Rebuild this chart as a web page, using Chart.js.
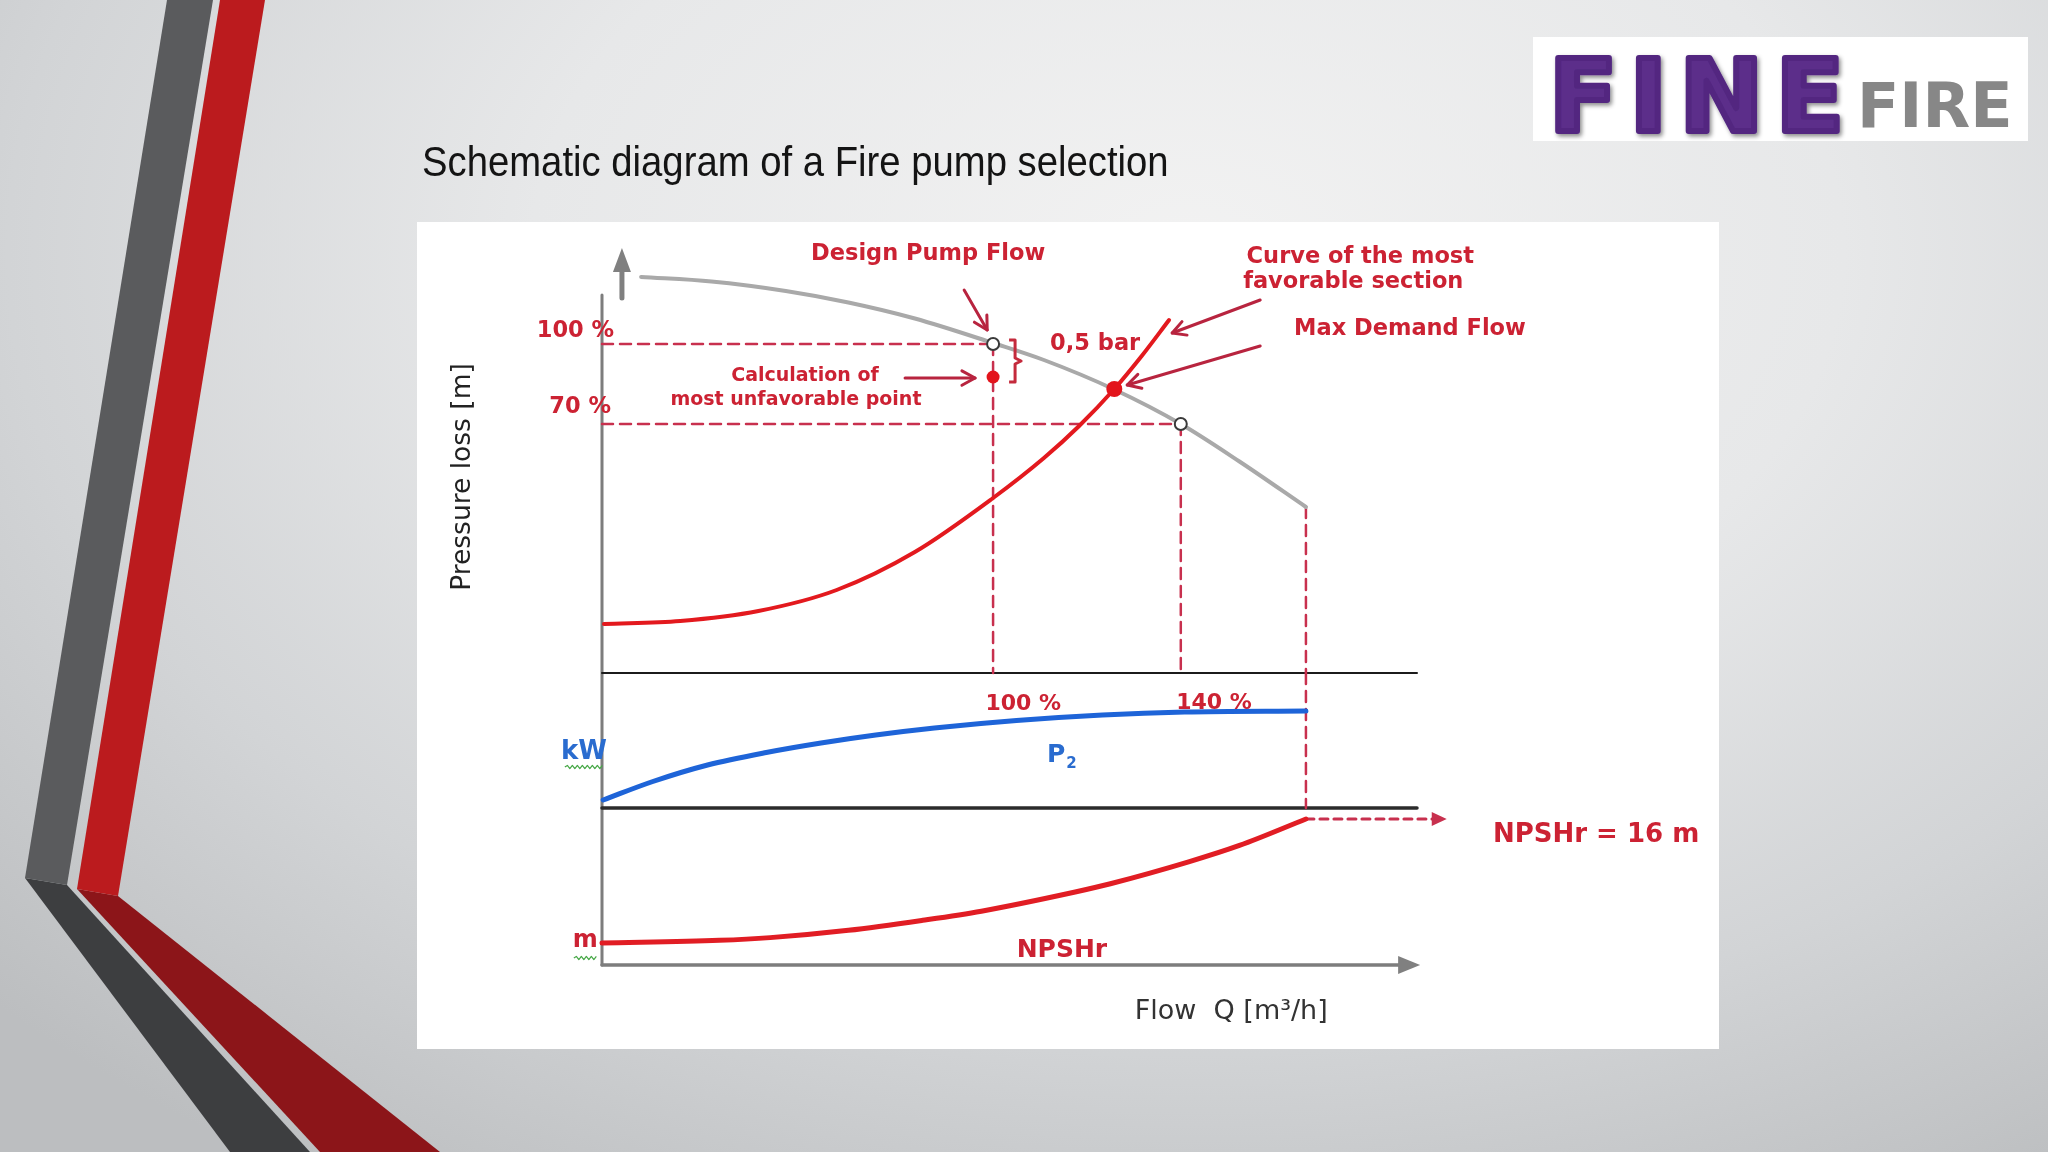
<!DOCTYPE html>
<html>
<head>
<meta charset="utf-8">
<title>Schematic diagram of a Fire pump selection</title>
<script src="https://cdn.jsdelivr.net/npm/chart.js@4.4.1/dist/chart.umd.min.js"></script>
<style>
html, body { margin:0; padding:0; width:2048px; height:1152px; overflow:hidden; }
body { position:relative; background: radial-gradient(ellipse 80% 95% at 58% 22%, #f2f2f2 0%, #e7e8e9 40%, #d2d4d6 72%, #bcbec0 100%); }
#stripes { position:absolute; left:0; top:0; }
#title { position:absolute; left:422px; top:140px; font-family:"Liberation Sans", Arial, sans-serif; font-size:43px; line-height:43px; color:#141414; white-space:nowrap; transform:scaleX(0.89); transform-origin:0 0; }
#logo { position:absolute; left:1533px; top:37px; }
#box { position:absolute; left:417px; top:222px; width:1302px; height:827px; background:#fff; }
#chart { position:absolute; left:0; top:0; }
</style>
</head>
<body>
<svg id="stripes" width="2048" height="1152">
  <polygon points="25,878 67,885 310,1152 230,1152" fill="#3d3e40"/>
  <polygon points="77,889 118,896 440,1152 320,1152" fill="#8c1519"/>
  <polygon points="167,0 213,0 67,885 25,878" fill="#5a5b5d"/>
  <polygon points="220,0 265,0 118,896 77,889" fill="#bb1b1e"/>
</svg>
<div id="title">Schematic diagram of a Fire pump selection</div>
<svg id="logo" width="495" height="104">
  <defs><filter id="sh" x="-5%" y="-10%" width="115%" height="130%"><feDropShadow dx="2" dy="2.5" stdDeviation="2" flood-color="#000" flood-opacity="0.45"/></filter></defs>
  <rect x="0" y="0" width="495" height="104" fill="#ffffff"/>
  <text x="16" y="94" font-family="DejaVu Sans, sans-serif" font-weight="bold" font-size="100" letter-spacing="12.5"
        fill="#5b2e8a" stroke="#522880" stroke-width="6" stroke-linejoin="round" filter="url(#sh)">FINE</text>
  <text x="324" y="90" font-family="DejaVu Sans, sans-serif" font-weight="bold" font-size="62" fill="#878787">FIRE</text>
</svg>
<div id="box"></div>
<canvas id="chart" width="2048" height="1152" style="width:2048px;height:1152px"></canvas>
<script>
// ---------------- data ----------------
// Flow axis: % of design flow (design = 100)
const pumpQ   = [10, 28, 47, 63, 80, 100, 113, 131, 148, 163, 180];
const pumpH   = [79.2, 78.3, 76.4, 74.1, 70.9, 66.0, 62.6, 56.7, 49.8, 42.3, 33.2];
const systemQ = [0.5, 20, 40, 60, 80, 100, 113, 122, 131, 138, 145];
const systemH = [9.8, 10.4, 12.4, 16.6, 24.2, 35.0, 43.0, 49.4, 56.8, 63.4, 70.6];
const powerQ  = [0.3, 13, 27, 42, 56, 70, 85, 106, 128, 149, 180];
const powerP  = [1.6, 5.3, 8.6, 11.1, 13.0, 14.6, 16.0, 17.5, 18.6, 19.2, 19.4];
const npshQ   = [0, 30, 43, 63, 82, 97, 121, 130, 150, 163, 180];
const npshH   = [2.4, 2.7, 3.0, 3.8, 4.9, 5.9, 8.0, 8.9, 11.3, 13.1, 16.0];
const designPoint = [100, 65.8];   // Design Pump Flow (100 %)
const testPoint   = [148, 49.8];   // 140 % flow / 70 % head
const calcPoint   = [100, 59.2];   // most unfavorable point
const maxPoint    = [131, 56.8];   // Max Demand Flow
const endQ = 180;                  // end of pump curve
const npshArrowQ = 216;
const headTicks = ['100 %', '70 %'];
const flowTicks = ['100 %', '140 %'];

// ---------------- helpers ----------------
const pts = (xs, ys) => xs.map((x, i) => ({x, y: ys[i]}));
const seg = (x1, y1, x2, y2) => [{x:x1, y:y1}, {x:x2, y:y2}];
const DASH = '#c8304e';
const RED_TXT = '#cc2233';
const ARROW = '#b8243f';
const BLUE_TXT = '#2a6ccf';

function dashed(data, axis, extra) {
  return Object.assign({data, yAxisID: axis, borderColor: DASH, borderWidth: 2.5,
    borderDash: [11, 7], pointRadius: 0, order: 5, clip: false, tension: 0}, extra || {});
}
function solid(data, axis, color, w, order) {
  return {data, yAxisID: axis, borderColor: color, borderWidth: w, pointRadius: 0,
    order: order, clip: false, tension: 0};
}
function curve(xs, ys, axis, color, w, order) {
  return {data: pts(xs, ys), yAxisID: axis, borderColor: color, borderWidth: w,
    cubicInterpolationMode: 'monotone', pointRadius: 0, order: order, clip: false};
}

const datasets = [
  {data: pts([maxPoint[0]], [maxPoint[1]]), yAxisID: 'yTop', showLine: false,
   pointRadius: 8, pointBackgroundColor: '#e3141c', pointBorderWidth: 0, order: 0, clip: false},
  {data: pts([calcPoint[0]], [calcPoint[1]]), yAxisID: 'yTop', showLine: false,
   pointRadius: 6.5, pointBackgroundColor: '#e3141c', pointBorderWidth: 0, order: 0, clip: false},
  {data: pts([designPoint[0], testPoint[0]], [designPoint[1], testPoint[1]]), yAxisID: 'yTop', showLine: false,
   pointRadius: 6, pointBackgroundColor: '#ffffff', pointBorderColor: '#3a3a3a', pointBorderWidth: 2, order: 0, clip: false},
  curve(systemQ, systemH, 'yTop', '#e3191e', 4, 1),
  curve(pumpQ, pumpH, 'yTop', '#a9a9a9', 4, 2),
  curve(powerQ, powerP, 'yMid', '#1e64d8', 5, 1),
  curve(npshQ, npshH, 'yBot', '#e11d24', 5, 1),
  // dashed guides
  dashed(seg(0, designPoint[1], designPoint[0], designPoint[1]), 'yTop'),
  dashed(seg(0, testPoint[1], testPoint[0], testPoint[1]), 'yTop'),
  dashed(seg(designPoint[0], designPoint[1], designPoint[0], 0), 'yTop'),
  dashed(seg(testPoint[0], testPoint[1], testPoint[0], 0), 'yTop'),
  dashed(seg(endQ, pumpH[pumpH.length - 1], endQ, 0), 'yTop'),
  dashed(seg(endQ, 27, endQ, 0), 'yMid'),
  dashed(seg(endQ, npshH[npshH.length - 1], npshArrowQ - 2, npshH[npshH.length - 1]), 'yBot', {borderDash: [8, 6], borderWidth: 3}),
  // panel lines & axes
  solid(seg(0, 0, 208.4, 0), 'yTop', '#1b1b1b', 2, 6),
  solid(seg(0, 0, 208.4, 0), 'yMid', '#2b2b2b', 3.5, 6),
  solid(seg(0, 0, 204, 0), 'yBot', '#7d7d7d', 3.5, 6),
  solid(seg(0, 75.6, 0, -58.4), 'yTop', '#7d7d7d', 3, 6),
  solid(seg(5.1, 75, 5.1, 81), 'yTop', '#808080', 5, 6)
];

const labels = [
  {t:'Design Pump Flow', x:83.4, y:84.2, a:'yTop', s:22.5, c:RED_TXT, b:true},
  {t:'Curve of the most', x:193.9, y:83.6, a:'yTop', s:22.5, c:RED_TXT, b:true},
  {t:'favorable section', x:192.1, y:78.6, a:'yTop', s:22.5, c:RED_TXT, b:true},
  {t:'Max Demand Flow', x:206.6, y:69.2, a:'yTop', s:22.5, c:RED_TXT, b:true},
  {t:'0,5 bar', x:126.1, y:66.2, a:'yTop', s:22.5, c:RED_TXT, b:true},
  {t:headTicks[0], x:3.1, y:68.8, a:'yTop', s:22.5, c:RED_TXT, b:true, al:'right'},
  {t:headTicks[1], x:2.3, y:53.6, a:'yTop', s:22.5, c:RED_TXT, b:true, al:'right'},
  {t:'Calculation of', x:51.9, y:59.8, a:'yTop', s:19, c:RED_TXT, b:true},
  {t:'most unfavorable point', x:49.6, y:55.0, a:'yTop', s:19, c:RED_TXT, b:true},
  {t:flowTicks[0], x:107.7, y:21.2, a:'yMid', s:22, c:RED_TXT, b:true},
  {t:flowTicks[1], x:156.5, y:21.4, a:'yMid', s:22, c:RED_TXT, b:true},
  {t:'kW', x:-4.6, y:11.6, a:'yMid', s:26, c:BLUE_TXT, b:true},
  {t:'m', x:-4.3, y:2.96, a:'yBot', s:24, c:RED_TXT, b:true},
  {t:'NPSHr', x:117.6, y:1.86, a:'yBot', s:25, c:RED_TXT, b:true},
  {t:'NPSHr = 16 m', x:254.2, y:14.47, a:'yBot', s:26, c:RED_TXT, b:true},
  {t:'Flow  Q [m³/h]', x:160.9, y:-4.93, a:'yBot', s:27, c:'#333333', b:false}
];
const arrows = [
  {x1:92.6, y1:76.6, x2:98.5, y2:68.6},
  {x1:168.3, y1:74.6, x2:145.8, y2:68.0},
  {x1:168.3, y1:65.4, x2:134.3, y2:57.6},
  {x1:77.5, y1:59.0, x2:95.4, y2:59.0}
];

function tri(ctx, p, color) {
  ctx.beginPath(); ctx.moveTo(p[0][0], p[0][1]); ctx.lineTo(p[1][0], p[1][1]); ctx.lineTo(p[2][0], p[2][1]);
  ctx.closePath(); ctx.fillStyle = color; ctx.fill();
}
function squiggle(ctx, x1, x2, y) {
  ctx.beginPath(); ctx.moveTo(x1, y);
  let up = true;
  for (let x = x1 + 2.5; x <= x2; x += 2.5) { ctx.lineTo(x, y + (up ? -1.6 : 1.6)); up = !up; }
  ctx.strokeStyle = '#47a847'; ctx.lineWidth = 1.2; ctx.stroke();
}

const deco = {
  id: 'deco',
  afterDatasetsDraw(chart) {
    const {ctx, scales: s} = chart;
    const X = v => s.x.getPixelForValue(v);
    const Y = (v, a) => s[a].getPixelForValue(v);
    const DY = 2.5;
    ctx.save();
    // axis arrow heads
    const ax = X(5.1), ayTip = Y(85, 'yTop');
    tri(ctx, [[ax, ayTip], [ax - 9, ayTip + 24], [ax + 9, ayTip + 24]], '#808080');
    const xTip = X(209.2), xy = Y(0, 'yBot');
    tri(ctx, [[xTip, xy], [xTip - 22, xy - 9], [xTip - 22, xy + 9]], '#808080');
    const nTip = X(npshArrowQ), ny = Y(npshH[npshH.length - 1], 'yBot');
    tri(ctx, [[nTip, ny], [nTip - 15, ny - 7], [nTip - 15, ny + 7]], DASH);
    // annotation arrows
    ctx.strokeStyle = ARROW; ctx.lineWidth = 3; ctx.lineCap = 'round'; ctx.lineJoin = 'round';
    arrows.forEach(r => {
      const x1 = X(r.x1), y1 = Y(r.y1, 'yTop'), x2 = X(r.x2), y2 = Y(r.y2, 'yTop');
      const ang = Math.atan2(y2 - y1, x2 - x1), L = 15, h = 0.5;
      ctx.beginPath(); ctx.moveTo(x1, y1); ctx.lineTo(x2, y2); ctx.stroke();
      ctx.beginPath();
      ctx.moveTo(x2 - L * Math.cos(ang - h), y2 - L * Math.sin(ang - h));
      ctx.lineTo(x2, y2);
      ctx.lineTo(x2 - L * Math.cos(ang + h), y2 - L * Math.sin(ang + h));
      ctx.stroke();
    });
    // bracket between design head and calculated point
    const xb = X(designPoint[0]) + 22, top = Y(designPoint[1], 'yTop') - 4, bot = Y(calcPoint[1], 'yTop') + 5;
    const mid = (top + bot) / 2;
    ctx.strokeStyle = '#c42a3c'; ctx.lineWidth = 3; ctx.lineCap = 'butt';
    ctx.beginPath(); ctx.moveTo(xb - 6, top); ctx.lineTo(xb, top); ctx.lineTo(xb, mid - 3); ctx.lineTo(xb + 6, mid);
    ctx.lineTo(xb, mid + 3); ctx.lineTo(xb, bot); ctx.lineTo(xb - 6, bot); ctx.stroke();
    // texts
    ctx.textBaseline = 'middle';
    labels.forEach(l => {
      ctx.font = (l.b ? 'bold ' : '') + l.s + 'px "DejaVu Sans", sans-serif';
      ctx.fillStyle = l.c; ctx.textAlign = l.al || 'center';
      ctx.fillText(l.t, X(l.x), Y(l.y, l.a) + DY);
    });
    // P2 with subscript
    const p2x = X(118.2), p2y = Y(10.6, 'yMid') + DY;
    ctx.font = 'bold 25px "DejaVu Sans", sans-serif'; ctx.fillStyle = BLUE_TXT; ctx.textAlign = 'right';
    ctx.fillText('P', p2x + 1, p2y - 2);
    ctx.font = 'bold 15px "DejaVu Sans", sans-serif'; ctx.textAlign = 'left';
    ctx.fillText('2', p2x + 2, p2y + 7);
    // squiggles under kW and m
    squiggle(ctx, X(-9.5), X(0.5), Y(11.6, 'yMid') + 17);
    squiggle(ctx, X(-7.2), X(-1), Y(2.96, 'yBot') + 20);
    // y axis title
    ctx.save();
    ctx.translate(X(-36.1) + 2, Y(39.2, 'yTop'));
    ctx.rotate(-Math.PI / 2);
    ctx.font = '26.5px "DejaVu Sans", sans-serif'; ctx.fillStyle = '#222222'; ctx.textAlign = 'center';
    ctx.fillText('Pressure loss [m]', 0, 0);
    ctx.restore();
    ctx.restore();
  }
};

new Chart(document.getElementById('chart'), {
  type: 'line',
  data: {datasets},
  options: {
    responsive: false, animation: false, devicePixelRatio: 1, events: [],
    layout: {padding: {left: 602, right: 631, top: 248, bottom: 187}},
    plugins: {legend: {display: false}, tooltip: {enabled: false}, title: {display: false}},
    elements: {point: {radius: 0}, line: {borderCapStyle: 'round', borderJoinStyle: 'round'}},
    scales: {
      x:    {type: 'linear', axis: 'x', min: 0, max: 208.4, display: false},
      yTop: {type: 'linear', axis: 'y', min: -58.4, max: 85, display: false},
      yMid: {type: 'linear', axis: 'y', min: -31.4, max: 112, display: false},
      yBot: {type: 'linear', axis: 'y', min: 0, max: 78.58, display: false}
    }
  },
  plugins: [deco]
});
</script>
</body>
</html>
